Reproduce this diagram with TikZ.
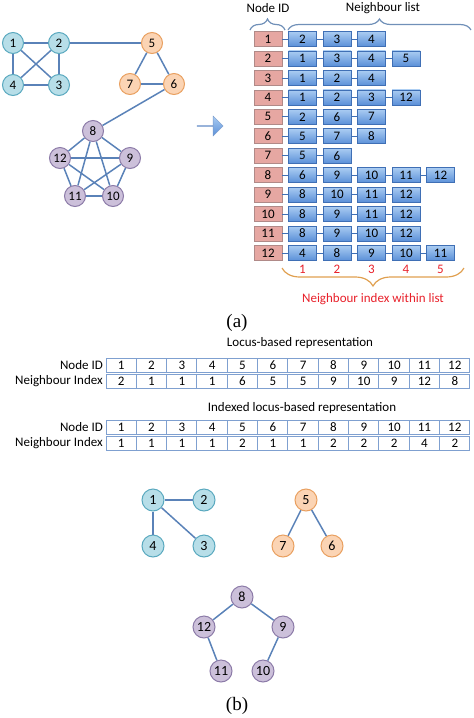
\documentclass[tikz,border=0pt]{standalone}
\usepackage{fontspec}
\setmainfont{Carlito}
\newfontfamily\seriffont{Liberation Serif}
\usetikzlibrary{decorations.pathreplacing,shapes.arrows}
\definecolor{cyanF}{HTML}{B7DEE8}
\definecolor{cyanD}{HTML}{5AA9BF}
\definecolor{orF}{HTML}{FBD4B4}
\definecolor{orD}{HTML}{E9A060}
\definecolor{puF}{HTML}{CCC0DA}
\definecolor{puD}{HTML}{8C7BA8}
\definecolor{edgec}{HTML}{5A82B8}
\definecolor{pinkF}{HTML}{E6A7A2}
\definecolor{pinkD}{HTML}{B08A88}
\definecolor{blueT}{HTML}{AACCF2}
\definecolor{blueB}{HTML}{5B90D8}
\definecolor{blueD}{HTML}{3F6FB5}
\definecolor{bracec}{HTML}{7090B8}
\definecolor{obrace}{HTML}{E0A050}
\definecolor{redtxt}{HTML}{E8202A}
\definecolor{tabc}{HTML}{7FA0D0}
\tikzset{
  gn/.style={circle,minimum size=21pt,inner sep=0pt,line width=1pt,font=\fontsize{13}{13}\selectfont},
  gc/.style={gn,fill=cyanF,draw=cyanD},
  go/.style={gn,fill=orF,draw=orD},
  gp/.style={gn,fill=puF,draw=puD},
  bn/.style={minimum size=22pt,font=\fontsize{14}{14}\selectfont},
  ge/.style={draw=edgec,line width=1.5pt},
  idbox/.style={minimum width=28pt,minimum height=15pt,inner sep=0pt,fill=pinkF,draw=pinkD,line width=0.6pt,font=\fontsize{13}{13}\selectfont},
  nbbox/.style={minimum width=28pt,minimum height=15pt,inner sep=0pt,top color=blueT,bottom color=blueB,draw=blueD,line width=0.6pt,font=\fontsize{13}{13}\selectfont},
  lk/.style={draw=blueD,line width=0.8pt},
  cell/.style={draw=tabc,line width=1pt,minimum width=30.33pt,minimum height=14pt,inner sep=0pt,font=\fontsize{13}{13}\selectfont},
  lab/.style={font=\fontsize{13}{13}\selectfont,inner sep=0pt},
}
\begin{document}
\begin{tikzpicture}[x=1pt,y=-1pt]
\useasboundingbox (0,0) rectangle (474,718);
% ---------- graph (a)
\node[gc] (a1) at (13,43) {1};
\node[gc] (a2) at (59,43) {2};
\node[gc] (a4) at (13,85) {4};
\node[gc] (a3) at (59,85) {3};
\node[go] (a5) at (152,43) {5};
\node[go] (a7) at (130,84) {7};
\node[go] (a6) at (174,84) {6};
\node[gp] (a8) at (93,131) {8};
\node[gp] (a12) at (60,158) {12};
\node[gp] (a9) at (130,158) {9};
\node[gp] (a11) at (75,196) {11};
\node[gp] (a10) at (113,196) {10};
\foreach \u/\v in {a1/a2,a1/a4,a1/a3,a2/a3,a2/a4,a4/a3,a2/a5,a5/a7,a5/a6,a7/a6,a6/a8,a8/a12,a8/a9,a8/a11,a8/a10,a12/a9,a12/a10,a12/a11,a9/a11,a9/a10,a11/a10}
  \draw[ge] (\u) -- (\v);
% arrow
\node[single arrow,draw=blueD!70,line width=0.4pt,top color=blueT,bottom color=blueB,minimum height=26pt,minimum width=20pt,single arrow head extend=5pt,single arrow head indent=0pt,inner sep=0pt] (arr) at (210,126) {};
% ---------- lists
\node[lab] (hid) at (268,8) {Node ID};
\node[lab] (hnl) at (383,8) {Neighbour list};
\draw[decorate,decoration={brace,amplitude=11pt},draw=bracec,line width=1.2pt] (250,30) -- (285,30);
\draw[decorate,decoration={brace,amplitude=11pt},draw=bracec,line width=1.2pt] (288,30) -- (471,30);
\foreach \r/\lst in {1/{2,3,4},2/{1,3,4,5},3/{1,2,4},4/{1,2,3,12},5/{2,6,7},6/{5,7,8},7/{5,6},8/{6,9,10,11,12},9/{8,10,11,12},10/{8,9,11,12},11/{8,9,10,12},12/{4,8,9,10,11}}{
  \pgfmathsetmacro\yy{39+(\r-1)*19.45}
  \node[idbox] (r\r-c0) at (268,\yy) {\r};
  \foreach \v [count=\c] in \lst {
    \pgfmathtruncatemacro\p{\c-1}
    \node[nbbox] (r\r-c\c) at ({268+34.5*\c},\yy) {\v};
    \draw[lk] (r\r-c\p) -- (r\r-c\c);
  }
}
\foreach \i in {1,...,5}
  \node[lab,text=redtxt] (ix\i) at ({268+34.5*\i},269) {\i};
\draw[decorate,decoration={brace,amplitude=18pt},draw=obrace,line width=1.2pt] (464,268) -- (282,268);
\node[lab,text=redtxt] (nil) at (373,299) {Neighbour index within list};
\node[font=\seriffont\fontsize{19}{19}\selectfont,inner sep=0pt] (capa) at (237,323) {(a)};
% ---------- tables
\node[lab] (tt1) at (300,343) {Locus-based representation};
\node[lab,anchor=east] (l1a) at (103,365) {Node ID};
\node[lab,anchor=east] (l1b) at (103,381) {Neighbour Index};
\foreach \v [count=\i] in {2,1,1,1,6,5,5,9,10,9,12,8}{
  \node[cell] (t1a\i) at ({106+30.33*(\i-0.5)},365) {\i};
  \node[cell] (t1b\i) at ({106+30.33*(\i-0.5)},381) {\v};
}
\node[lab] (tt2) at (302,408) {Indexed locus-based representation};
\node[lab,anchor=east] (l2a) at (103,427) {Node ID};
\node[lab,anchor=east] (l2b) at (103,443) {Neighbour Index};
\foreach \v [count=\i] in {1,1,1,1,2,1,1,2,2,2,4,2}{
  \node[cell] (t2a\i) at ({106+30.33*(\i-0.5)},427) {\i};
  \node[cell] (t2b\i) at ({106+30.33*(\i-0.5)},443) {\v};
}
% ---------- graph (b)
\node[gc,bn] (b1) at (153,500) {1};
\node[gc,bn] (b2) at (204,500) {2};
\node[gc,bn] (b4) at (153,546) {4};
\node[gc,bn] (b3) at (204,546) {3};
\node[go,bn] (b5) at (306,500) {5};
\node[go,bn] (b7) at (283,546) {7};
\node[go,bn] (b6) at (332,546) {6};
\node[gp,bn] (b8) at (242,597) {8};
\node[gp,bn] (b12) at (204,627) {12};
\node[gp,bn] (b9) at (283,627) {9};
\node[gp,bn] (b11) at (221,671) {11};
\node[gp,bn] (b10) at (263,671) {10};
\foreach \u/\v in {b1/b2,b1/b4,b1/b3,b5/b7,b5/b6,b8/b12,b8/b9,b12/b11,b9/b10}
  \draw[ge] (\u) -- (\v);
\node[font=\seriffont\fontsize{19}{19}\selectfont,inner sep=0pt] (capb) at (237,706) {(b)};
\end{tikzpicture}
\end{document}
